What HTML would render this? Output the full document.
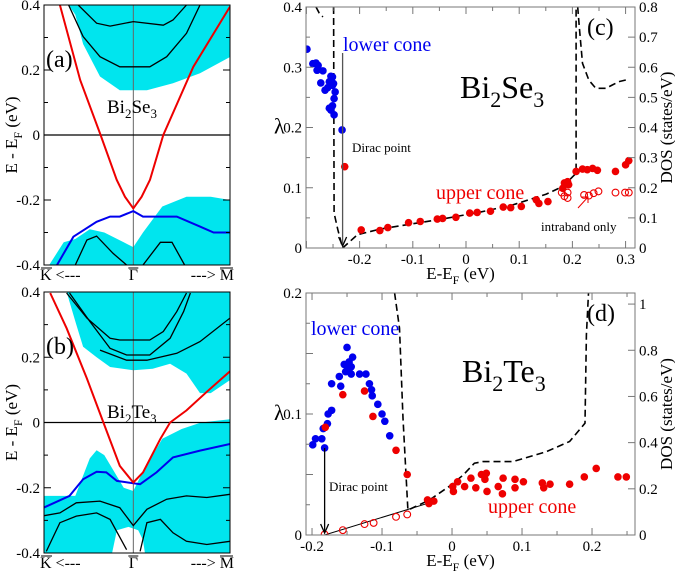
<!DOCTYPE html>
<html><head><meta charset="utf-8"><style>
body{margin:0;background:#fff}
svg{display:block;font-family:"Liberation Serif",serif}
</style></head><body>
<svg id="fig" width="675" height="571" viewBox="0 0 675 571"></svg>
<script>
// ---------- data ----------
// panel (a) bands: [k, E]
const aRed=[[-0.76,0.4],[-0.55,0.169],[-0.345,0.005],[-0.172,-0.138],[-0.086,-0.19],[0,-0.226],[0.086,-0.19],[0.172,-0.138],[0.31,0],[0.62,0.21],[1,0.395]];
const aBlue=[[-0.79,-0.4],[-0.62,-0.313],[-0.38,-0.267],[-0.24,-0.251],[-0.14,-0.251],[0,-0.234],[0.1,-0.251],[0.45,-0.251],[0.69,-0.282],[0.83,-0.3],[1,-0.3]];
const aBlack=[
 [[-0.57,0.4],[-0.38,0.344],[-0.24,0.335],[0,0.349],[0.31,0.338],[0.41,0.354],[0.55,0.4]],
 [[-0.67,0.4],[-0.52,0.303],[-0.345,0.241],[-0.14,0.21],[0.17,0.21],[0.345,0.241],[0.55,0.313],[0.69,0.4]],
 [[-0.6,-0.4],[-0.48,-0.323],[-0.38,-0.311],[-0.21,-0.364],[-0.07,-0.4]],
 [[0.1,-0.4],[0.28,-0.33],[0.4,-0.33],[0.53,-0.4]]];
const aCyan=[
 [[-0.67,0.4],[-0.6,0.37],[-0.52,0.28],[-0.345,0.18],[-0.14,0.138],[0.14,0.138],[0.41,0.159],[0.69,0.19],[1,0.24],[1,0.4]],
 [[-0.87,-0.4],[-0.72,-0.33],[-0.6,-0.32],[-0.45,-0.29],[-0.3,-0.3],[-0.1,-0.33],[0,-0.345],[0.1,-0.3],[0.3,-0.22],[0.55,-0.19],[0.8,-0.19],[1,-0.2],[1,-0.4]]];
// panel (b)
const bRed=[[-0.86,0.397],[-0.69,0.289],[-0.48,0.135],[-0.31,0],[-0.14,-0.133],[0,-0.184],[0.1,-0.153],[0.28,-0.05],[0.38,0],[0.55,0.037],[0.76,0.094],[1,0.157]];
const bBlue=[[-0.95,-0.264],[-0.66,-0.225],[-0.52,-0.174],[-0.38,-0.151],[-0.28,-0.153],[-0.17,-0.179],[0.07,-0.189],[0.24,-0.153],[0.41,-0.107],[0.69,-0.086],[1,-0.066]];
const bBlack=[
 [[-0.69,0.397],[-0.48,0.32],[-0.24,0.258],[-0.14,0.253],[0.17,0.253],[0.31,0.279],[0.45,0.34],[0.55,0.397]],
 [[-0.66,0.397],[-0.45,0.31],[-0.24,0.227],[-0.07,0.207],[0.17,0.207],[0.38,0.258],[0.52,0.34],[0.59,0.397]],
 [[-0.345,0.222],[-0.07,0.191],[0.14,0.191],[0.45,0.212],[0.69,0.248],[1,0.32]],
 [[-0.95,-0.287],[-0.76,-0.277],[-0.59,-0.246],[-0.345,-0.241],[-0.14,-0.261],[0,-0.316],[0.14,-0.266],[0.345,-0.235],[0.55,-0.225],[0.76,-0.23],[1,-0.22]],
 [[-0.9,-0.395],[-0.76,-0.307],[-0.59,-0.287],[-0.38,-0.277],[-0.24,-0.297],[-0.07,-0.39]],
 [[0.07,-0.395],[0.14,-0.307],[0.28,-0.297],[0.41,-0.338],[0.55,-0.364],[0.76,-0.374],[1,-0.364]]];
const bCyan=[
 [[-0.69,0.4],[-0.59,0.3],[-0.52,0.232],[-0.38,0.2],[-0.24,0.17],[0,0.16],[0.2,0.165],[0.38,0.18],[0.55,0.15],[0.69,0.09],[0.8,0.09],[1,0.13],[1,0.4]],
 [[-0.92,-0.4],[-0.92,-0.225],[-0.6,-0.225],[-0.45,-0.11],[-0.38,-0.085],[-0.3,-0.1],[-0.2,-0.15],[-0.1,-0.2],[0,-0.21],[0.1,-0.15],[0.3,-0.05],[0.5,-0.02],[0.7,0],[1,0.01],[1,-0.4]]];
const bWhite=[[-0.22,-0.4],[-0.17,-0.33],[-0.05,-0.32],[0.05,-0.33],[0.1,-0.36],[0.12,-0.4]];
// panel (c)
const cBlueE=[-0.299,-0.288,-0.282,-0.278,-0.28,-0.269,-0.273,-0.265,-0.26,-0.257,-0.254,-0.251,-0.249,-0.251,-0.257,-0.254,-0.251,-0.248,-0.246,-0.248,-0.233];
const cBlueL=[0.33,0.306,0.307,0.303,0.295,0.294,0.274,0.262,0.266,0.276,0.285,0.284,0.273,0.27,0.232,0.229,0.236,0.248,0.259,0.221,0.196];
const cRedE=[-0.228,-0.197,-0.162,-0.147,-0.108,-0.086,-0.054,-0.044,-0.019,0.007,0.021,0.046,0.07,0.084,0.104,0.132,0.137,0.154,0.182,0.185,0.191,0.193,0.207,0.219,0.228,0.238,0.247,0.281,0.3,0.306];
const cRedL=[0.135,0.030,0.029,0.034,0.042,0.044,0.048,0.049,0.051,0.058,0.059,0.061,0.068,0.067,0.069,0.080,0.074,0.077,0.099,0.108,0.11,0.105,0.127,0.131,0.13,0.132,0.129,0.127,0.138,0.145];
const cOpenE=[0.18,0.185,0.191,0.191,0.222,0.231,0.24,0.249,0.281,0.299,0.306];
const cOpenL=[0.092,0.086,0.083,0.092,0.088,0.087,0.091,0.094,0.092,0.092,0.092];
const cDosMain=[[-0.249,0.8],[-0.248,0.116],[-0.241,0.061],[-0.232,0],[-0.204,0.044],[-0.161,0.063],[-0.098,0.081],[-0.036,0.099],[0.026,0.119],[0.088,0.143],[0.151,0.179],[0.182,0.204],[0.207,0.248],[0.207,0.8]];
const cDosRight=[[0.21,0.8],[0.213,0.734],[0.219,0.613],[0.231,0.557],[0.244,0.53],[0.263,0.53],[0.275,0.541],[0.287,0.552],[0.306,0.56]];
const cDosLeft=[[-0.282,0.8],[-0.276,0.78],[-0.269,0.767]];
// panel (d)
const dBlueE=[-0.199,-0.195,-0.186,-0.182,-0.184,-0.178,-0.177,-0.172,-0.172,-0.159,-0.161,-0.154,-0.15,-0.152,-0.149,-0.147,-0.144,-0.142,-0.144,-0.132,-0.123,-0.118,-0.115,-0.114,-0.106,-0.1,-0.096,-0.089];
const dBlueL=[0.0745,0.0795,0.0795,0.072,0.088,0.092,0.1,0.103,0.125,0.123,0.131,0.141,0.155,0.135,0.137,0.143,0.139,0.147,0.133,0.133,0.133,0.125,0.12,0.115,0.108,0.1,0.094,0.082];
const dRedE=[-0.181,-0.156,-0.125,-0.113,-0.08,-0.064,-0.035,-0.033,-0.026,0.001,0.002,0.008,0.018,0.027,0.034,0.042,0.049,0.047,0.05,0.066,0.073,0.072,0.09,0.09,0.102,0.129,0.131,0.14,0.168,0.189,0.206,0.237,0.249];
const dRedL=[0.089,0.116,0.119,0.098,0.07,0.05,0.029,0.026,0.028,0.04,0.036,0.044,0.04,0.047,0.039,0.05,0.051,0.046,0.036,0.04,0.047,0.034,0.046,0.039,0.044,0.043,0.039,0.042,0.042,0.048,0.055,0.048,0.048];
const dOpenE=[-0.182,-0.156,-0.125,-0.112,-0.08,-0.064];
const dOpenL=[0.0005,0.004,0.009,0.01,0.015,0.017];
const dDos=[[-0.082,1.048],[-0.075,0.896],[-0.07,0.506],[-0.063,0.108],[-0.032,0.152],[-0.001,0.217],[0.016,0.26],[0.032,0.311],[0.044,0.318],[0.087,0.318],[0.135,0.361],[0.168,0.405],[0.19,0.484],[0.192,0.867],[0.195,1.048]];
const bandTicks=[-0.4,-0.2,0,0.2,0.4];
const cXTicks=[-0.2,-0.1,0,0.1,0.2,0.3];
const cLTicks=[0,0.1,0.2,0.3,0.4];
const cDTicks=[0,0.1,0.2,0.3,0.4,0.5,0.6,0.7,0.8];
const dXTicks=[-0.2,-0.1,0,0.1,0.2];
const dLTicks=[0,0.1,0.2];
const dDTicks=[0,0.2,0.4,0.6,0.8,1];

// ---------- helpers ----------
const NS='http://www.w3.org/2000/svg';
const svg=document.getElementById('fig');
function el(tag,attrs,parent,txt){const e=document.createElementNS(NS,tag);for(const k in attrs)e.setAttribute(k,attrs[k]);if(txt!==undefined)e.textContent=txt;(parent||svg).appendChild(e);return e;}
function lin(d0,d1,r0,r1){return v=>r0+(v-d0)*(r1-r0)/(d1-d0);}
function pts(arr,sx,sy){return arr.map(p=>sx(p[0]).toFixed(1)+','+sy(p[1]).toFixed(1)).join(' ');}
let clipN=0;
function clipFor(x0,y0,x1,y1){const id='c'+(clipN++);const cp=el('clipPath',{id:id});el('rect',{x:x0,y:y0,width:x1-x0,height:y1-y0},cp);return 'url(#'+id+')';}

function bandPanel(P,red,blue,black,cyan,white,name,label,matName,sub){
 const sx=lin(-0.924,1,P.x0,P.x1), sy=lin(-0.4,0.4,P.y1,P.y0);
 const g=el('g',{'clip-path':clipFor(P.x0,P.y0,P.x1,P.y1)});
 
 
 cyan.forEach(c=>{const p=el('polygon',{points:pts(c,sx,sy),fill:'#00e5ee'},g);
  
  });
 if(white){const w=el('polygon',{points:pts(white,sx,sy),fill:'#fff'},g);
  
  }
 el('line',{x1:sx(0),x2:sx(0),y1:P.y0,y2:P.y1,stroke:'#666','stroke-width':1},g);
 el('line',{x1:P.x0,x2:P.x1,y1:sy(0),y2:sy(0),stroke:'#000','stroke-width':1.2},g);
 black.forEach(b=>{const l=el('polyline',{points:pts(b,sx,sy),fill:'none',stroke:'#000','stroke-width':1.3},g);
  
  });
 const bl=el('polyline',{points:pts(blue,sx,sy),fill:'none',stroke:'#0000ee','stroke-width':2},g);
 
 
 const rl=el('polyline',{points:pts(red,sx,sy),fill:'none',stroke:'#ee0000','stroke-width':2},g);
 
 
 const fr=el('rect',{x:P.x0,y:P.y0,width:P.x1-P.x0,height:P.y1-P.y0,fill:'none',stroke:'#000','stroke-width':1});
 
 
 for(let v=-0.4;v<=0.401;v+=0.1){const y=sy(v);const L=Math.abs(Math.round(v*10))%2==0?7:4;
  el('line',{x1:P.x0,x2:P.x0+L,y1:y,y2:y,stroke:'#000'});el('line',{x1:P.x1,x2:P.x1-L,y1:y,y2:y,stroke:'#000'});}
 bandTicks.forEach(v=>{const t=el('text',{x:P.x0-4,y:sy(v)+5,'font-size':15,'text-anchor':'end'},svg,v===0?'0':String(v));
  
  });
 const yt=el('text',{transform:`translate(17,${(P.y0+P.y1)/2}) rotate(-90)`,'font-size':17,'text-anchor':'middle'});
 
 
 yt.innerHTML='E - E<tspan dy="5" font-size="12">F</tspan><tspan dy="-5"> (eV)</tspan>';
 const lab=el('text',{x:P.x0+2,y:P.y0+62,'font-size':24},svg,'('+label+')');
 
 
 const m=el('text',{x:P.x0+63,y:P.y0+sub,'font-size':19});
 
 
 m.innerHTML=matName;
 const yb=P.y1+15;
 [['K <---',P.x0-4,'start',P.x0-3,P.x0+8],['\u0393',sx(0),'middle',sx(0)-5,sx(0)+5],['---> M',P.x1+4,'end',P.x1-10,P.x1+3]].forEach(a=>{
  const t=el('text',{x:a[1],y:yb,'font-size':16,'text-anchor':a[2]},svg,a[0]);
  
  
  el('line',{x1:a[3],x2:a[4],y1:yb-12,y2:yb-12,stroke:'#000','stroke-width':1});});
}
bandPanel({x0:44,x1:230,y0:5,y1:265},aRed,aBlue,aBlack,aCyan,null,'panel-a','a','Bi<tspan dy="5" font-size="13">2</tspan><tspan dy="-5">Se</tspan><tspan dy="5" font-size="13">3</tspan>',108);
bandPanel({x0:44,x1:230,y0:292,y1:553},bRed,bBlue,bBlack,bCyan,bWhite,'panel-b','b','Bi<tspan dy="5" font-size="13">2</tspan><tspan dy="-5">Te</tspan><tspan dy="5" font-size="13">3</tspan>',126);

function lamPanel(P,o){
 const sx=lin(o.e0,o.e1,P.x0,P.x1), sy=lin(0,o.lmax,P.y1,P.y0), sd=lin(0,o.dmax,P.y1,P.y0);
 const g=el('g',{'clip-path':clipFor(P.x0,P.y0,P.x1,P.y1)});
 
 
 o.dos.forEach(d=>{const l=el('polyline',{points:pts(d,sx,sd),fill:'none',stroke:'#000','stroke-width':1.6,'stroke-dasharray':'7,4'},g);
  
  });
 if(o.thin){const l=el('line',{x1:sx(o.thin[0]),y1:sy(o.thin[1]),x2:sx(o.thin[2]),y2:sy(o.thin[3]),stroke:'#000','stroke-width':1},g);
  
  }
 const r=3.8;
 o.blueE.forEach((e,i)=>{const c=el('circle',{cx:sx(e),cy:sy(o.blueL[i]),r:r,fill:'#0000ee'},g);
  
  });
 o.redE.forEach((e,i)=>{const c=el('circle',{cx:sx(e),cy:sy(o.redL[i]),r:r,fill:'#ee0000'},g);
  
  });
 o.openE.forEach((e,i)=>{const c=el('circle',{cx:sx(e),cy:sy(o.openL[i]),r:3.4,fill:'none',stroke:'#ee0000','stroke-width':1.1},g);
  
  });
 const fr=el('rect',{x:P.x0,y:P.y0,width:P.x1-P.x0,height:P.y1-P.y0,fill:'none',stroke:'#777','stroke-width':1});
 
 
 for(let v=Math.ceil(o.e0*20)/20;v<=o.e1;v+=0.05){const x=sx(v);const L=Math.abs(Math.round(v*20))%2==0?7:4;
  el('line',{x1:x,x2:x,y1:P.y1,y2:P.y1-L,stroke:'#777'});el('line',{x1:x,x2:x,y1:P.y0,y2:P.y0+L,stroke:'#777'});}
 for(let v=0;v<=o.lmax+1e-9;v+=o.lmax/8){const L=Math.round(v/(o.lmax/8))%2==0?7:4;el('line',{x1:P.x0,x2:P.x0+L,y1:sy(v),y2:sy(v),stroke:'#777'});}
 o.dTicks.forEach(v=>el('line',{x1:P.x1,x2:P.x1-7,y1:sd(v),y2:sd(v),stroke:'#777'}));
 o.xTicks.forEach(v=>{const t=el('text',{x:sx(v),y:P.y1+16,'font-size':15,'text-anchor':'middle'},svg,v===0?'0':String(v));
  
  });
 o.lTicks.forEach(v=>{const t=el('text',{x:P.x0-4,y:sy(v)+5,'font-size':15,'text-anchor':'end'},svg,v===0?'0':String(v));
  
  });
 o.dTicks.forEach(v=>{const t=el('text',{x:P.x1+4,y:sd(v)+5,'font-size':15},svg,v===0?'0':String(v));
  
  });
 const xt=el('text',{x:(P.x0+P.x1)/2-10,y:P.y1+31,'font-size':17,'text-anchor':'middle'});
 
 
 xt.innerHTML='E-E<tspan dy="5" font-size="12">F</tspan><tspan dy="-5"> (eV)</tspan>';
 const lt=el('text',{x:P.x0-32,y:sy(o.lmax/2)+6,'font-size':22},svg,'\u03bb');
 
 
 const dt=el('text',{transform:`translate(${P.x1+37},${(P.y0+P.y1)/2}) rotate(-90)`,'font-size':17,'text-anchor':'middle'},svg,'DOS (states/eV)');
 
 
 const pl=el('text',{x:P.x1-48,y:P.y0+28,'font-size':24},svg,o.label);
 
 
 const m=el('text',{x:o.mat[0],y:o.mat[1],'font-size':32});
 
 
 m.innerHTML=o.matHtml;
 o.texts.forEach(t=>{const e=el('text',{x:t[0],y:t[1],'font-size':t[2],fill:t[3]},svg,t[4]);
  
  });
 const ax=sx(o.arrow[0]);
 const al=el('line',{x1:ax,x2:ax,y1:o.arrow[1],y2:P.y1-3,stroke:o.arrow[2],'stroke-width':1.3});
 
 
 el('polyline',{points:`${ax-4},${P.y1-11} ${ax},${P.y1-2} ${ax+4},${P.y1-11}`,fill:'none',stroke:'#000','stroke-width':1.3});
 return {sx,sy};
}
lamPanel({x0:306,x1:635,y0:7,y1:248},{name:'panel-c',e0:-0.3008,e1:0.3177,lmax:0.4,dmax:0.8,
 dos:[cDosMain,cDosRight,cDosLeft],blueE:cBlueE,blueL:cBlueL,redE:cRedE,redL:cRedL,openE:cOpenE,openL:cOpenL,
 xTicks:cXTicks,lTicks:cLTicks,dTicks:cDTicks,label:'(c)',mat:[460,98],
 matHtml:'Bi<tspan dy="9" font-size="22">2</tspan><tspan dy="-9">Se</tspan><tspan dy="9" font-size="22">3</tspan>',
 texts:[[343,51,20,'#0000ee','lower cone','lower-cone-label'],[436,199,20,'#ee0000','upper cone','upper-cone-label'],[352,152,13,'#000','Dirac point','dirac-point-label'],[541,231,13,'#000','intraband only','intraband-label']],
 arrow:[-0.232,53,'#555']});
el('line',{x1:578,y1:208,x2:588,y2:197,stroke:'#ee0000','stroke-width':1});
el('polyline',{points:'582,197 588,197 588,203',fill:'none',stroke:'#ee0000','stroke-width':1});
lamPanel({x0:306,x1:635,y0:293,y1:535},{name:'panel-d',e0:-0.2086,e1:0.2614,lmax:0.2,dmax:1.048,
 dos:[dDos],thin:[-0.182,0,-0.03,0.027],blueE:dBlueE,blueL:dBlueL,redE:dRedE,redL:dRedL,openE:dOpenE,openL:dOpenL,
 xTicks:dXTicks,lTicks:dLTicks,dTicks:dDTicks,label:'(d)',mat:[462,382],
 matHtml:'Bi<tspan dy="9" font-size="22">2</tspan><tspan dy="-9">Te</tspan><tspan dy="9" font-size="22">3</tspan>',
 texts:[[311,335,20,'#0000ee','lower cone','lower-cone-label'],[488,513,20,'#ee0000','upper cone','upper-cone-label'],[329,491,13,'#000','Dirac point','dirac-point-label']],
 arrow:[-0.182,448,'#000']});
</script>
</body></html>
